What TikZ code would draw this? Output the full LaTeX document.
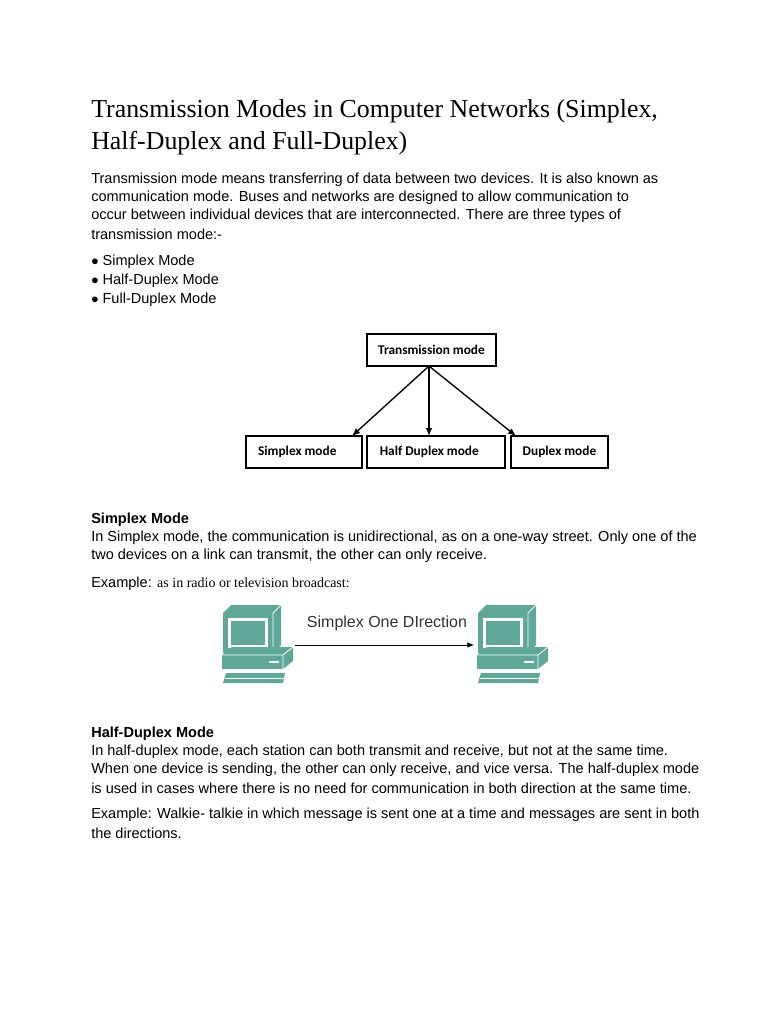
\documentclass[tikz,border=0pt]{standalone}
\usepackage{fontspec}
\setmainfont{Liberation Sans}
\newfontfamily\serifft{Liberation Serif}
\newfontfamily\boxft{Carlito}
\usetikzlibrary{arrows.meta}
\definecolor{teal1}{HTML}{5FA898}
\tikzset{
 ln/.style={anchor=west,inner sep=0pt,font=\fontsize{10.9}{12}\selectfont},
 hd/.style={ln,font=\fontsize{10.9}{12}\selectfont\bfseries},
 ttl/.style={anchor=west,inner sep=0pt,font=\serifft\fontsize{19.4}{20}\selectfont},
 mbox/.style={draw,line width=1pt,inner sep=0pt,font=\boxft\bfseries\fontsize{10}{11}\selectfont},
 arr/.style={-{Latex[length=6pt,width=5pt]},line width=1pt},
 pc/.pic={
  \fill[teal1] (0,0) -- (8,-8) -- (58,-8) -- (58,32) -- (50,40) -- cycle;
  \fill[teal1] (0,0) rectangle (50,40);
  \draw[white,line width=0.6pt] (50,0) -- (58,-8) (50,40) -- (50,0);
  \fill[white] (5,5) rectangle (45,35);
  \fill[teal1] (8,8) rectangle (42,32);
  \fill[teal1] (-1,42) rectangle (60,56);
  \fill[teal1] (60,42) -- (70,34) -- (70,48) -- (60,56) -- cycle;
  \fill[teal1] (-1,42) -- (9,34) -- (70,34) -- (60,42) -- cycle;
  \draw[white,line width=0.6pt] (-1,42) -- (60,42) -- (70,34) (60,42) -- (60,56);
  \draw[white,line width=1pt] (46,49) -- (56,49);
  \fill[teal1] (3,60) -- (62,60) -- (60,70) -- (0,70) -- cycle;
  \draw[white,line width=0.6pt] (2,65) -- (61,65);
 }
}
\begin{document}
\begin{tikzpicture}[x=0.75pt,y=-0.75pt]
\useasboundingbox (0,0) rectangle (768,1024);
\fill[white] (0,0) rectangle (768,1024);
\node[ttl] (t1) at (91,111) {Transmission Modes in Computer Networks (Simplex,};
\node[ttl] (t2) at (91,143) {Half-Duplex and Full-Duplex)};
\node[ln] (p1) at (91,180) {Transmission mode means transferring of data between two devices. It is also known as};
\node[ln] (p2) at (91,198) {communication mode. Buses and networks are designed to allow communication to};
\node[ln] (p3) at (91,216) {occur between individual devices that are interconnected. There are three types of};
\node[ln] (p4) at (91,234) {transmission mode:-};
\node[ln] (b1) at (91,262) {$\bullet$ Simplex Mode};
\node[ln] (b2) at (91,281) {$\bullet$ Half-Duplex Mode};
\node[ln] (b3) at (91,300) {$\bullet$ Full-Duplex Mode};
\node[mbox,minimum width=129*0.75pt,minimum height=32*0.75pt] (tm) at (431.5,350) {Transmission mode};
\node[mbox,minimum width=116*0.75pt,minimum height=32*0.75pt] (sm) at (304,452) {\hspace*{-10pt}Simplex mode};
\node[mbox,minimum width=138*0.75pt,minimum height=32*0.75pt] (hm) at (436,452) {\hspace*{-10pt}Half Duplex mode};
\node[mbox,minimum width=97*0.75pt,minimum height=32*0.75pt] (dm) at (559.5,452) {Duplex mode};
\coordinate (o) at (429,366);
\draw[arr] (o) -- (352,436);
\draw[arr] (o) -- (429,436);
\draw[arr] (o) -- (516,436);
\node[hd] (h1) at (91,520) {Simplex Mode};
\node[ln] (s1) at (91,538) {In Simplex mode, the communication is unidirectional, as on a one-way street. Only one of the};
\node[ln] (s2) at (91,556) {two devices on a link can transmit, the other can only receive.};
\node[ln] (e1) at (91,584) {Example: {\serifft\fontsize{10.5}{12}\selectfont as in radio or television broadcast:}};
\pic (c1) at (223,613) {pc};
\pic (c2) at (478,613) {pc};
\coordinate (a1) at (295,645);
\coordinate (a2) at (474,645);
\draw[-{Latex[length=5pt,width=4pt]},line width=0.5pt] (a1) -- (a2);
\node[inner sep=0pt,font=\fontsize{12}{13}\selectfont,text=black!80] (sl) at (387,623) {Simplex One DIrection};
\node[hd] (h2) at (91,734) {Half-Duplex Mode};
\node[ln] (d1) at (91,752) {In half-duplex mode, each station can both transmit and receive, but not at the same time.};
\node[ln] (d2) at (91,770) {When one device is sending, the other can only receive, and vice versa. The half-duplex mode};
\node[ln] (d3) at (91,788) {is used in cases where there is no need for communication in both direction at the same time.};
\node[ln] (x1) at (91,815) {Example: Walkie- talkie in which message is sent one at a time and messages are sent in both};
\node[ln] (x2) at (91,833) {the directions.};
\end{tikzpicture}
\end{document}
